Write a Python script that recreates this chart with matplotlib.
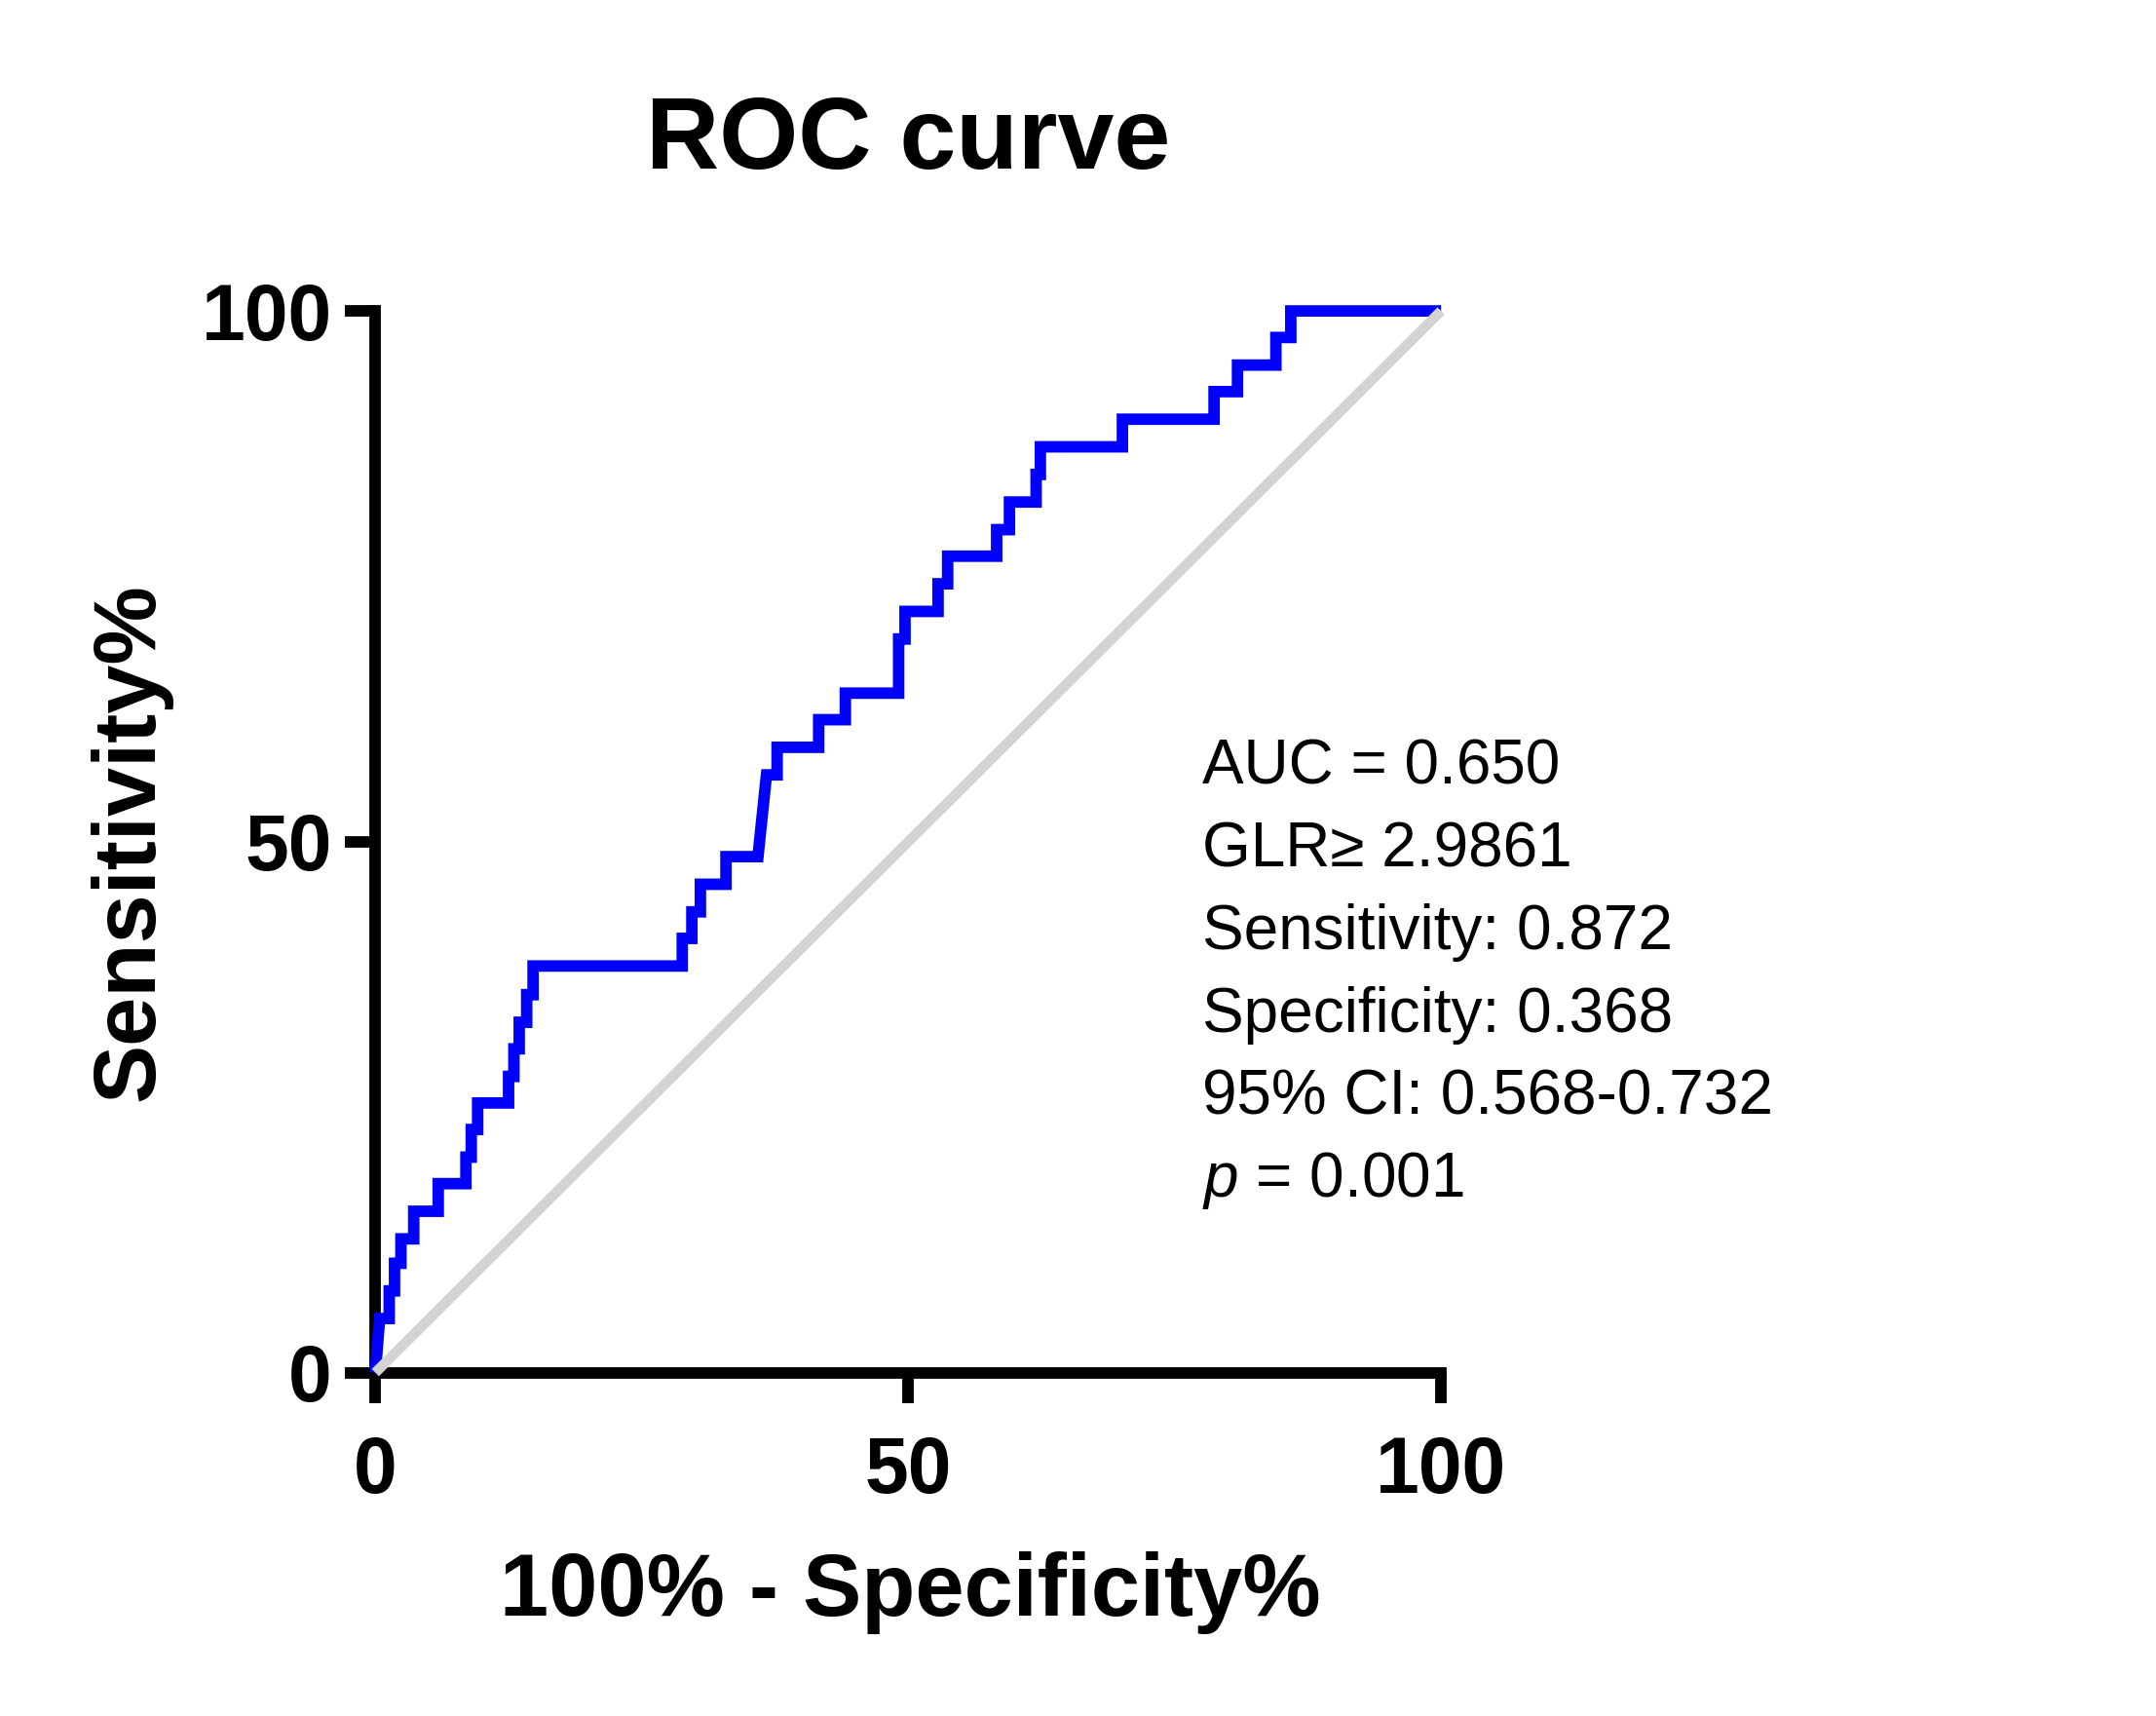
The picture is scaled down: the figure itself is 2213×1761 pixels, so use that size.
import matplotlib
matplotlib.use("Agg")
import matplotlib.pyplot as plt

plt.rcParams['font.family'] = ['Liberation Sans', 'DejaVu Sans']
plt.rcParams['mathtext.fontset'] = 'custom'
plt.rcParams['mathtext.rm'] = 'Liberation Sans'
plt.rcParams['mathtext.it'] = 'Liberation Sans:italic'

# ROC curve points (100% - Specificity%, Sensitivity%)
fpr = [0, 0.4, 1.3, 1.3, 1.8, 1.8, 2.4, 2.4, 3.6, 3.6,
       5.9, 5.9, 8.5, 8.5, 9.0, 9.0, 9.6, 9.6, 12.5, 12.5,
       13.0, 13.0, 13.5, 13.5, 14.2, 14.2, 14.8, 14.8, 28.8, 28.8,
       29.7, 29.7, 30.5, 30.5, 32.9, 32.9, 35.9, 36.7, 37.7, 37.7,
       41.6, 41.6, 44.1, 44.1, 49.1, 49.1, 49.7, 49.7, 52.8, 52.8,
       53.7, 53.7, 58.3, 58.3, 59.5, 59.5, 62.0, 62.0, 62.4, 62.4,
       70.1, 70.1, 78.7, 78.7, 80.9, 80.9, 84.5, 84.5, 85.9, 85.9,
       100]
tpr = [0, 5.1, 5.1, 7.7, 7.7, 10.3, 10.3, 12.6, 12.6, 15.2,
       15.2, 17.8, 17.8, 20.3, 20.3, 22.9, 22.9, 25.4, 25.4, 27.9,
       27.9, 30.5, 30.5, 33.0, 33.0, 35.6, 35.6, 38.3, 38.3, 40.9,
       40.9, 43.4, 43.4, 46.0, 46.0, 48.6, 48.6, 56.3, 56.3, 58.9,
       58.9, 61.5, 61.5, 64.0, 64.0, 69.1, 69.1, 71.7, 71.7, 74.3,
       74.3, 76.9, 76.9, 79.4, 79.4, 82.0, 82.0, 84.6, 84.6, 87.2,
       87.2, 89.8, 89.8, 92.4, 92.4, 94.9, 94.9, 97.5, 97.5, 100,
       100]

ref_line = [0, 100]
ticks = [0, 50, 100]

stats = ["AUC = 0.650",
         "GLR\u2265 2.9861",
         "Sensitivity: 0.872",
         "Specificity: 0.368",
         "95% CI: 0.568-0.732",
         "$p$ = 0.001"]

fig = plt.figure(figsize=(22.13, 17.61), dpi=100)
ax = fig.add_axes([0.1741, 0.2001, 0.4943, 0.6187])

ax.plot(fpr, tpr, color='#0000ff', lw=8.5, clip_on=False, zorder=3,
        solid_joinstyle='miter', solid_capstyle='butt')
ax.plot(ref_line, ref_line, color='#d3d3d3', lw=7.5, clip_on=False, zorder=4,
        solid_capstyle='butt')

ax.set_xlim(0, 100)
ax.set_ylim(0, 100)
ax.set_xticks(ticks)
ax.set_yticks(ticks)
for s in ['top', 'right']:
    ax.spines[s].set_visible(False)
for s in ['left', 'bottom']:
    ax.spines[s].set_linewidth(8.5)
    ax.spines[s].set_capstyle('projecting')
ax.tick_params(axis='both', direction='out', length=22, width=8.5, labelsize=58)
ax.tick_params(axis='x', pad=24)
ax.tick_params(axis='y', pad=10)
for lab in ax.get_xticklabels() + ax.get_yticklabels():
    lab.set_fontweight('bold')

fig.text(0.421, 0.917, "ROC curve", ha='center', va='center',
         fontsize=75, fontweight='bold')
fig.text(0.4222, 0.0719, "100% - Specificity%", ha='center', va='center',
         fontsize=65, fontweight='bold')
fig.text(0.0606, 0.5095, "Sensitivity%", ha='center', va='center',
         fontsize=65, fontweight='bold', rotation=90)

for i, line in enumerate(stats):
    fig.text(0.5574, 0.5432 - i * 0.0481, line, ha='left', va='baseline',
             fontsize=46)

fig.savefig("out.png", dpi=100, facecolor='white')
